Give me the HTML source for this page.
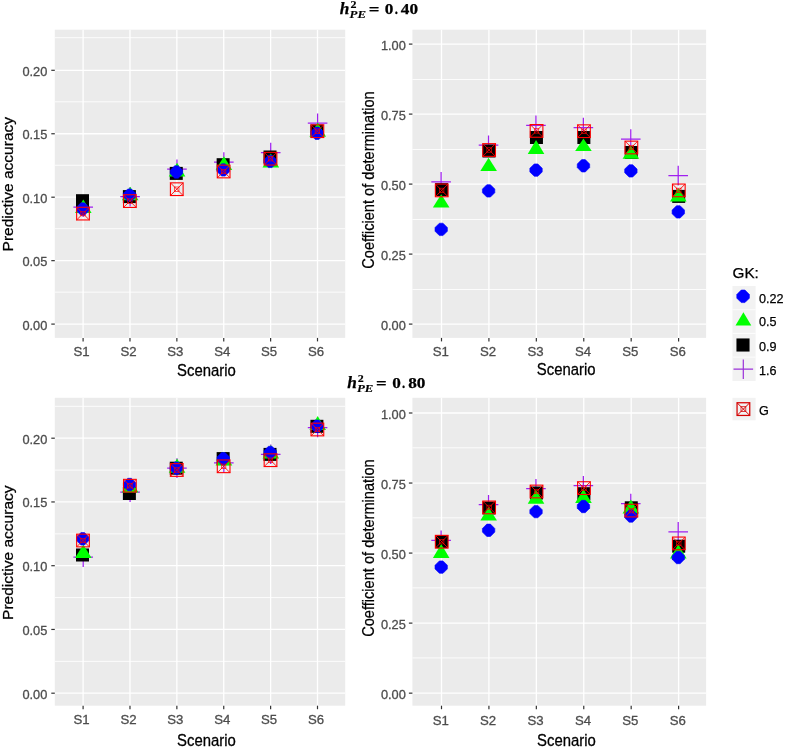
<!DOCTYPE html>
<html lang="en"><head><meta charset="utf-8"><title>Predictive accuracy and coefficient of determination by scenario</title>
<style>html,body{margin:0;padding:0;background:#fff}body{width:785px;height:747px;overflow:hidden}svg{display:block;font-family:"Liberation Sans", Arial, sans-serif}</style></head><body>
<svg width="785" height="747" viewBox="0 0 785 747">
<rect width="785" height="747" fill="#fff"/>
<g>
<rect x="-10" y="-10" width="805" height="767" fill="#fff"/>
<rect x="54.8" y="29.7" width="290.40" height="308.20" fill="#ebebeb"/>
<path d="M54.8 37.70H345.2" stroke="#fff" stroke-width="0.9" stroke-opacity="0.95"/>
<path d="M54.8 101.80H345.2" stroke="#fff" stroke-width="0.9" stroke-opacity="0.95"/>
<path d="M54.8 165.25H345.2" stroke="#fff" stroke-width="0.9" stroke-opacity="0.95"/>
<path d="M54.8 228.70H345.2" stroke="#fff" stroke-width="0.9" stroke-opacity="0.95"/>
<path d="M54.8 292.15H345.2" stroke="#fff" stroke-width="0.9" stroke-opacity="0.95"/>
<path d="M54.8 70.30H345.2" stroke="#fff" stroke-width="1.3"/>
<path d="M54.8 133.75H345.2" stroke="#fff" stroke-width="1.3"/>
<path d="M54.8 197.20H345.2" stroke="#fff" stroke-width="1.3"/>
<path d="M54.8 260.65H345.2" stroke="#fff" stroke-width="1.3"/>
<path d="M54.8 324.10H345.2" stroke="#fff" stroke-width="1.3"/>
<path d="M83.10 29.7V337.9" stroke="#fff" stroke-width="1.3"/>
<path d="M129.98 29.7V337.9" stroke="#fff" stroke-width="1.3"/>
<path d="M176.86 29.7V337.9" stroke="#fff" stroke-width="1.3"/>
<path d="M223.74 29.7V337.9" stroke="#fff" stroke-width="1.3"/>
<path d="M270.62 29.7V337.9" stroke="#fff" stroke-width="1.3"/>
<path d="M317.50 29.7V337.9" stroke="#fff" stroke-width="1.3"/>
<path d="M51.30 70.30H54.8" stroke="#333333" stroke-width="1.2"/>
<path d="M51.30 133.75H54.8" stroke="#333333" stroke-width="1.2"/>
<path d="M51.30 197.20H54.8" stroke="#333333" stroke-width="1.2"/>
<path d="M51.30 260.65H54.8" stroke="#333333" stroke-width="1.2"/>
<path d="M51.30 324.10H54.8" stroke="#333333" stroke-width="1.2"/>
<path d="M83.10 337.9V341.40" stroke="#333333" stroke-width="1.2"/>
<path d="M129.98 337.9V341.40" stroke="#333333" stroke-width="1.2"/>
<path d="M176.86 337.9V341.40" stroke="#333333" stroke-width="1.2"/>
<path d="M223.74 337.9V341.40" stroke="#333333" stroke-width="1.2"/>
<path d="M270.62 337.9V341.40" stroke="#333333" stroke-width="1.2"/>
<path d="M317.50 337.9V341.40" stroke="#333333" stroke-width="1.2"/>
<text x="47.3" y="75.80" text-anchor="end" font-size="12.8" fill="#4d4d4d" stroke="#4d4d4d" stroke-width="0.3">0.20</text>
<text x="47.3" y="139.25" text-anchor="end" font-size="12.8" fill="#4d4d4d" stroke="#4d4d4d" stroke-width="0.3">0.15</text>
<text x="47.3" y="202.70" text-anchor="end" font-size="12.8" fill="#4d4d4d" stroke="#4d4d4d" stroke-width="0.3">0.10</text>
<text x="47.3" y="266.15" text-anchor="end" font-size="12.8" fill="#4d4d4d" stroke="#4d4d4d" stroke-width="0.3">0.05</text>
<text x="47.3" y="329.60" text-anchor="end" font-size="12.8" fill="#4d4d4d" stroke="#4d4d4d" stroke-width="0.3">0.00</text>
<text x="81.60" y="356.1" text-anchor="middle" font-size="13.2" fill="#4d4d4d" stroke="#4d4d4d" stroke-width="0.3">S1</text>
<text x="128.48" y="356.1" text-anchor="middle" font-size="13.2" fill="#4d4d4d" stroke="#4d4d4d" stroke-width="0.3">S2</text>
<text x="175.36" y="356.1" text-anchor="middle" font-size="13.2" fill="#4d4d4d" stroke="#4d4d4d" stroke-width="0.3">S3</text>
<text x="222.24" y="356.1" text-anchor="middle" font-size="13.2" fill="#4d4d4d" stroke="#4d4d4d" stroke-width="0.3">S4</text>
<text x="269.12" y="356.1" text-anchor="middle" font-size="13.2" fill="#4d4d4d" stroke="#4d4d4d" stroke-width="0.3">S5</text>
<text x="316.00" y="356.1" text-anchor="middle" font-size="13.2" fill="#4d4d4d" stroke="#4d4d4d" stroke-width="0.3">S6</text>
<rect x="412.4" y="29.7" width="293.70" height="308.20" fill="#ebebeb"/>
<path d="M412.4 79.50H706.1" stroke="#fff" stroke-width="0.9" stroke-opacity="0.95"/>
<path d="M412.4 149.50H706.1" stroke="#fff" stroke-width="0.9" stroke-opacity="0.95"/>
<path d="M412.4 219.50H706.1" stroke="#fff" stroke-width="0.9" stroke-opacity="0.95"/>
<path d="M412.4 289.50H706.1" stroke="#fff" stroke-width="0.9" stroke-opacity="0.95"/>
<path d="M412.4 44.10H706.1" stroke="#fff" stroke-width="1.3"/>
<path d="M412.4 114.10H706.1" stroke="#fff" stroke-width="1.3"/>
<path d="M412.4 184.10H706.1" stroke="#fff" stroke-width="1.3"/>
<path d="M412.4 254.10H706.1" stroke="#fff" stroke-width="1.3"/>
<path d="M412.4 324.10H706.1" stroke="#fff" stroke-width="1.3"/>
<path d="M441.50 29.7V337.9" stroke="#fff" stroke-width="1.3"/>
<path d="M488.92 29.7V337.9" stroke="#fff" stroke-width="1.3"/>
<path d="M536.34 29.7V337.9" stroke="#fff" stroke-width="1.3"/>
<path d="M583.76 29.7V337.9" stroke="#fff" stroke-width="1.3"/>
<path d="M631.18 29.7V337.9" stroke="#fff" stroke-width="1.3"/>
<path d="M678.60 29.7V337.9" stroke="#fff" stroke-width="1.3"/>
<path d="M408.90 44.10H412.4" stroke="#333333" stroke-width="1.2"/>
<path d="M408.90 114.10H412.4" stroke="#333333" stroke-width="1.2"/>
<path d="M408.90 184.10H412.4" stroke="#333333" stroke-width="1.2"/>
<path d="M408.90 254.10H412.4" stroke="#333333" stroke-width="1.2"/>
<path d="M408.90 324.10H412.4" stroke="#333333" stroke-width="1.2"/>
<path d="M441.50 337.9V341.40" stroke="#333333" stroke-width="1.2"/>
<path d="M488.92 337.9V341.40" stroke="#333333" stroke-width="1.2"/>
<path d="M536.34 337.9V341.40" stroke="#333333" stroke-width="1.2"/>
<path d="M583.76 337.9V341.40" stroke="#333333" stroke-width="1.2"/>
<path d="M631.18 337.9V341.40" stroke="#333333" stroke-width="1.2"/>
<path d="M678.60 337.9V341.40" stroke="#333333" stroke-width="1.2"/>
<text x="405.8" y="49.60" text-anchor="end" font-size="12.8" fill="#4d4d4d" stroke="#4d4d4d" stroke-width="0.3">1.00</text>
<text x="405.8" y="119.60" text-anchor="end" font-size="12.8" fill="#4d4d4d" stroke="#4d4d4d" stroke-width="0.3">0.75</text>
<text x="405.8" y="189.60" text-anchor="end" font-size="12.8" fill="#4d4d4d" stroke="#4d4d4d" stroke-width="0.3">0.50</text>
<text x="405.8" y="259.60" text-anchor="end" font-size="12.8" fill="#4d4d4d" stroke="#4d4d4d" stroke-width="0.3">0.25</text>
<text x="405.8" y="329.60" text-anchor="end" font-size="12.8" fill="#4d4d4d" stroke="#4d4d4d" stroke-width="0.3">0.00</text>
<text x="440.70" y="355.8" text-anchor="middle" font-size="13.2" fill="#4d4d4d" stroke="#4d4d4d" stroke-width="0.3">S1</text>
<text x="488.12" y="355.8" text-anchor="middle" font-size="13.2" fill="#4d4d4d" stroke="#4d4d4d" stroke-width="0.3">S2</text>
<text x="535.54" y="355.8" text-anchor="middle" font-size="13.2" fill="#4d4d4d" stroke="#4d4d4d" stroke-width="0.3">S3</text>
<text x="582.96" y="355.8" text-anchor="middle" font-size="13.2" fill="#4d4d4d" stroke="#4d4d4d" stroke-width="0.3">S4</text>
<text x="630.38" y="355.8" text-anchor="middle" font-size="13.2" fill="#4d4d4d" stroke="#4d4d4d" stroke-width="0.3">S5</text>
<text x="677.80" y="355.8" text-anchor="middle" font-size="13.2" fill="#4d4d4d" stroke="#4d4d4d" stroke-width="0.3">S6</text>
<rect x="54.8" y="397.8" width="290.40" height="307.90" fill="#ebebeb"/>
<path d="M54.8 406.30H345.2" stroke="#fff" stroke-width="0.9" stroke-opacity="0.95"/>
<path d="M54.8 470.10H345.2" stroke="#fff" stroke-width="0.9" stroke-opacity="0.95"/>
<path d="M54.8 533.85H345.2" stroke="#fff" stroke-width="0.9" stroke-opacity="0.95"/>
<path d="M54.8 597.60H345.2" stroke="#fff" stroke-width="0.9" stroke-opacity="0.95"/>
<path d="M54.8 661.35H345.2" stroke="#fff" stroke-width="0.9" stroke-opacity="0.95"/>
<path d="M54.8 438.20H345.2" stroke="#fff" stroke-width="1.3"/>
<path d="M54.8 501.95H345.2" stroke="#fff" stroke-width="1.3"/>
<path d="M54.8 565.70H345.2" stroke="#fff" stroke-width="1.3"/>
<path d="M54.8 629.45H345.2" stroke="#fff" stroke-width="1.3"/>
<path d="M54.8 693.20H345.2" stroke="#fff" stroke-width="1.3"/>
<path d="M83.10 397.8V705.7" stroke="#fff" stroke-width="1.3"/>
<path d="M129.98 397.8V705.7" stroke="#fff" stroke-width="1.3"/>
<path d="M176.86 397.8V705.7" stroke="#fff" stroke-width="1.3"/>
<path d="M223.74 397.8V705.7" stroke="#fff" stroke-width="1.3"/>
<path d="M270.62 397.8V705.7" stroke="#fff" stroke-width="1.3"/>
<path d="M317.50 397.8V705.7" stroke="#fff" stroke-width="1.3"/>
<path d="M51.30 438.20H54.8" stroke="#333333" stroke-width="1.2"/>
<path d="M51.30 501.95H54.8" stroke="#333333" stroke-width="1.2"/>
<path d="M51.30 565.70H54.8" stroke="#333333" stroke-width="1.2"/>
<path d="M51.30 629.45H54.8" stroke="#333333" stroke-width="1.2"/>
<path d="M51.30 693.20H54.8" stroke="#333333" stroke-width="1.2"/>
<path d="M83.10 705.7V709.20" stroke="#333333" stroke-width="1.2"/>
<path d="M129.98 705.7V709.20" stroke="#333333" stroke-width="1.2"/>
<path d="M176.86 705.7V709.20" stroke="#333333" stroke-width="1.2"/>
<path d="M223.74 705.7V709.20" stroke="#333333" stroke-width="1.2"/>
<path d="M270.62 705.7V709.20" stroke="#333333" stroke-width="1.2"/>
<path d="M317.50 705.7V709.20" stroke="#333333" stroke-width="1.2"/>
<text x="47.3" y="443.70" text-anchor="end" font-size="12.8" fill="#4d4d4d" stroke="#4d4d4d" stroke-width="0.3">0.20</text>
<text x="47.3" y="507.45" text-anchor="end" font-size="12.8" fill="#4d4d4d" stroke="#4d4d4d" stroke-width="0.3">0.15</text>
<text x="47.3" y="571.20" text-anchor="end" font-size="12.8" fill="#4d4d4d" stroke="#4d4d4d" stroke-width="0.3">0.10</text>
<text x="47.3" y="634.95" text-anchor="end" font-size="12.8" fill="#4d4d4d" stroke="#4d4d4d" stroke-width="0.3">0.05</text>
<text x="47.3" y="698.70" text-anchor="end" font-size="12.8" fill="#4d4d4d" stroke="#4d4d4d" stroke-width="0.3">0.00</text>
<text x="81.60" y="724.4" text-anchor="middle" font-size="13.2" fill="#4d4d4d" stroke="#4d4d4d" stroke-width="0.3">S1</text>
<text x="128.48" y="724.4" text-anchor="middle" font-size="13.2" fill="#4d4d4d" stroke="#4d4d4d" stroke-width="0.3">S2</text>
<text x="175.36" y="724.4" text-anchor="middle" font-size="13.2" fill="#4d4d4d" stroke="#4d4d4d" stroke-width="0.3">S3</text>
<text x="222.24" y="724.4" text-anchor="middle" font-size="13.2" fill="#4d4d4d" stroke="#4d4d4d" stroke-width="0.3">S4</text>
<text x="269.12" y="724.4" text-anchor="middle" font-size="13.2" fill="#4d4d4d" stroke="#4d4d4d" stroke-width="0.3">S5</text>
<text x="316.00" y="724.4" text-anchor="middle" font-size="13.2" fill="#4d4d4d" stroke="#4d4d4d" stroke-width="0.3">S6</text>
<rect x="412.4" y="397.8" width="293.70" height="307.90" fill="#ebebeb"/>
<path d="M412.4 447.80H706.1" stroke="#fff" stroke-width="0.9" stroke-opacity="0.95"/>
<path d="M412.4 517.84H706.1" stroke="#fff" stroke-width="0.9" stroke-opacity="0.95"/>
<path d="M412.4 587.88H706.1" stroke="#fff" stroke-width="0.9" stroke-opacity="0.95"/>
<path d="M412.4 657.92H706.1" stroke="#fff" stroke-width="0.9" stroke-opacity="0.95"/>
<path d="M412.4 413.00H706.1" stroke="#fff" stroke-width="1.3"/>
<path d="M412.4 483.04H706.1" stroke="#fff" stroke-width="1.3"/>
<path d="M412.4 553.08H706.1" stroke="#fff" stroke-width="1.3"/>
<path d="M412.4 623.12H706.1" stroke="#fff" stroke-width="1.3"/>
<path d="M412.4 693.16H706.1" stroke="#fff" stroke-width="1.3"/>
<path d="M441.50 397.8V705.7" stroke="#fff" stroke-width="1.3"/>
<path d="M488.92 397.8V705.7" stroke="#fff" stroke-width="1.3"/>
<path d="M536.34 397.8V705.7" stroke="#fff" stroke-width="1.3"/>
<path d="M583.76 397.8V705.7" stroke="#fff" stroke-width="1.3"/>
<path d="M631.18 397.8V705.7" stroke="#fff" stroke-width="1.3"/>
<path d="M678.60 397.8V705.7" stroke="#fff" stroke-width="1.3"/>
<path d="M408.90 413.00H412.4" stroke="#333333" stroke-width="1.2"/>
<path d="M408.90 483.04H412.4" stroke="#333333" stroke-width="1.2"/>
<path d="M408.90 553.08H412.4" stroke="#333333" stroke-width="1.2"/>
<path d="M408.90 623.12H412.4" stroke="#333333" stroke-width="1.2"/>
<path d="M408.90 693.16H412.4" stroke="#333333" stroke-width="1.2"/>
<path d="M441.50 705.7V709.20" stroke="#333333" stroke-width="1.2"/>
<path d="M488.92 705.7V709.20" stroke="#333333" stroke-width="1.2"/>
<path d="M536.34 705.7V709.20" stroke="#333333" stroke-width="1.2"/>
<path d="M583.76 705.7V709.20" stroke="#333333" stroke-width="1.2"/>
<path d="M631.18 705.7V709.20" stroke="#333333" stroke-width="1.2"/>
<path d="M678.60 705.7V709.20" stroke="#333333" stroke-width="1.2"/>
<text x="405.8" y="418.50" text-anchor="end" font-size="12.8" fill="#4d4d4d" stroke="#4d4d4d" stroke-width="0.3">1.00</text>
<text x="405.8" y="488.54" text-anchor="end" font-size="12.8" fill="#4d4d4d" stroke="#4d4d4d" stroke-width="0.3">0.75</text>
<text x="405.8" y="558.58" text-anchor="end" font-size="12.8" fill="#4d4d4d" stroke="#4d4d4d" stroke-width="0.3">0.50</text>
<text x="405.8" y="628.62" text-anchor="end" font-size="12.8" fill="#4d4d4d" stroke="#4d4d4d" stroke-width="0.3">0.25</text>
<text x="405.8" y="698.66" text-anchor="end" font-size="12.8" fill="#4d4d4d" stroke="#4d4d4d" stroke-width="0.3">0.00</text>
<text x="440.70" y="724.6" text-anchor="middle" font-size="13.2" fill="#4d4d4d" stroke="#4d4d4d" stroke-width="0.3">S1</text>
<text x="488.12" y="724.6" text-anchor="middle" font-size="13.2" fill="#4d4d4d" stroke="#4d4d4d" stroke-width="0.3">S2</text>
<text x="535.54" y="724.6" text-anchor="middle" font-size="13.2" fill="#4d4d4d" stroke="#4d4d4d" stroke-width="0.3">S3</text>
<text x="582.96" y="724.6" text-anchor="middle" font-size="13.2" fill="#4d4d4d" stroke="#4d4d4d" stroke-width="0.3">S4</text>
<text x="630.38" y="724.6" text-anchor="middle" font-size="13.2" fill="#4d4d4d" stroke="#4d4d4d" stroke-width="0.3">S5</text>
<text x="677.80" y="724.6" text-anchor="middle" font-size="13.2" fill="#4d4d4d" stroke="#4d4d4d" stroke-width="0.3">S6</text>
<path d="M73.40 207.10H93.00M83.20 197.30V216.90" stroke="#a020f0" stroke-width="1.25" fill="none"/>
<path d="M120.28 196.70H139.88M130.08 186.90V206.50" stroke="#a020f0" stroke-width="1.25" fill="none"/>
<path d="M167.16 169.20H186.76M176.96 159.40V179.00" stroke="#a020f0" stroke-width="1.25" fill="none"/>
<path d="M214.04 162.10H233.64M223.84 152.30V171.90" stroke="#a020f0" stroke-width="1.25" fill="none"/>
<path d="M260.92 152.60H280.52M270.72 142.80V162.40" stroke="#a020f0" stroke-width="1.25" fill="none"/>
<path d="M307.80 123.20H327.40M317.60 113.40V133.00" stroke="#a020f0" stroke-width="1.25" fill="none"/>
<rect x="76.00" y="194.20" width="13.00" height="13.00" fill="#000000"/>
<rect x="122.88" y="190.10" width="13.00" height="13.00" fill="#000000"/>
<rect x="169.76" y="166.90" width="13.00" height="13.00" fill="#000000"/>
<rect x="216.64" y="158.20" width="13.00" height="13.00" fill="#000000"/>
<rect x="263.52" y="150.50" width="13.00" height="13.00" fill="#000000"/>
<rect x="310.40" y="124.50" width="13.00" height="13.00" fill="#000000"/>
<polygon points="83.30,199.40 75.00,212.90 91.60,212.90" fill="#00ff00"/>
<polygon points="130.18,186.80 121.88,200.30 138.48,200.30" fill="#00ff00"/>
<polygon points="177.06,162.70 168.76,176.40 185.36,176.40" fill="#00ff00"/>
<polygon points="223.94,156.30 215.64,170.00 232.24,170.00" fill="#00ff00"/>
<polygon points="270.82,153.60 262.52,167.60 279.12,167.60" fill="#00ff00"/>
<polygon points="317.70,122.40 309.40,136.70 326.00,136.70" fill="#00ff00"/>
<polygon points="80.90,202.80 84.50,202.80 88.90,207.20 88.90,210.80 84.50,215.20 80.90,215.20 76.50,210.80 76.50,207.20" fill="#0000ff" stroke="#0000ff" stroke-width="0.6" stroke-linejoin="round"/>
<polygon points="127.78,188.90 131.38,188.90 135.78,193.30 135.78,196.90 131.38,201.30 127.78,201.30 123.38,196.90 123.38,193.30" fill="#0000ff" stroke="#0000ff" stroke-width="0.6" stroke-linejoin="round"/>
<polygon points="174.66,165.80 178.26,165.80 182.66,170.20 182.66,173.80 178.26,178.20 174.66,178.20 170.26,173.80 170.26,170.20" fill="#0000ff" stroke="#0000ff" stroke-width="0.6" stroke-linejoin="round"/>
<polygon points="221.54,163.70 225.14,163.70 229.54,168.10 229.54,171.70 225.14,176.10 221.54,176.10 217.14,171.70 217.14,168.10" fill="#0000ff" stroke="#0000ff" stroke-width="0.6" stroke-linejoin="round"/>
<polygon points="268.42,155.20 272.02,155.20 276.42,159.60 276.42,163.20 272.02,167.60 268.42,167.60 264.02,163.20 264.02,159.60" fill="#0000ff" stroke="#0000ff" stroke-width="0.6" stroke-linejoin="round"/>
<polygon points="315.30,127.10 318.90,127.10 323.30,131.50 323.30,135.10 318.90,139.50 315.30,139.50 310.90,135.10 310.90,131.50" fill="#0000ff" stroke="#0000ff" stroke-width="0.6" stroke-linejoin="round"/>
<g stroke="#ff0000" stroke-width="1.1" fill="none"><rect x="76.65" y="207.25" width="12.70" height="12.70"/><path d="M76.65 207.25L89.35 219.95M76.65 219.95L89.35 207.25" stroke-width="0.88"/><rect x="80.80" y="211.40" width="4.40" height="4.40" stroke-width="0.66"/></g>
<g stroke="#ff0000" stroke-width="1.1" fill="none"><rect x="123.53" y="194.75" width="12.70" height="12.70"/><path d="M123.53 194.75L136.23 207.45M123.53 207.45L136.23 194.75" stroke-width="0.88"/><rect x="127.68" y="198.90" width="4.40" height="4.40" stroke-width="0.66"/></g>
<g stroke="#ff0000" stroke-width="1.1" fill="none"><rect x="170.41" y="182.85" width="12.70" height="12.70"/><path d="M170.41 182.85L183.11 195.55M170.41 195.55L183.11 182.85" stroke-width="0.88"/><rect x="174.56" y="187.00" width="4.40" height="4.40" stroke-width="0.66"/></g>
<g stroke="#ff0000" stroke-width="1.1" fill="none"><rect x="217.29" y="165.15" width="12.70" height="12.70"/><path d="M217.29 165.15L229.99 177.85M217.29 177.85L229.99 165.15" stroke-width="0.88"/><rect x="221.44" y="169.30" width="4.40" height="4.40" stroke-width="0.66"/></g>
<g stroke="#ff0000" stroke-width="1.1" fill="none"><rect x="264.17" y="152.35" width="12.70" height="12.70"/><path d="M264.17 152.35L276.87 165.05M264.17 165.05L276.87 152.35" stroke-width="0.88"/><rect x="268.32" y="156.50" width="4.40" height="4.40" stroke-width="0.66"/></g>
<g stroke="#ff0000" stroke-width="1.1" fill="none"><rect x="311.05" y="124.85" width="12.70" height="12.70"/><path d="M311.05 124.85L323.75 137.55M311.05 137.55L323.75 124.85" stroke-width="0.88"/><rect x="315.20" y="129.00" width="4.40" height="4.40" stroke-width="0.66"/></g>
<path d="M431.30 181.80H450.90M441.10 172.00V191.60" stroke="#a020f0" stroke-width="1.25" fill="none"/>
<path d="M478.72 145.20H498.32M488.52 135.40V155.00" stroke="#a020f0" stroke-width="1.25" fill="none"/>
<path d="M526.14 125.40H545.74M535.94 115.60V135.20" stroke="#a020f0" stroke-width="1.25" fill="none"/>
<path d="M573.56 127.50H593.16M583.36 117.70V137.30" stroke="#a020f0" stroke-width="1.25" fill="none"/>
<path d="M620.98 139.10H640.58M630.78 129.30V148.90" stroke="#a020f0" stroke-width="1.25" fill="none"/>
<path d="M668.40 175.60H688.00M678.20 165.80V185.40" stroke="#a020f0" stroke-width="1.25" fill="none"/>
<rect x="435.10" y="183.10" width="13.00" height="13.00" fill="#000000"/>
<rect x="482.52" y="144.50" width="13.00" height="13.00" fill="#000000"/>
<rect x="529.94" y="131.00" width="13.00" height="13.00" fill="#000000"/>
<rect x="577.36" y="131.00" width="13.00" height="13.00" fill="#000000"/>
<rect x="624.78" y="146.00" width="13.00" height="13.00" fill="#000000"/>
<rect x="672.20" y="189.90" width="13.00" height="13.00" fill="#000000"/>
<polygon points="441.20,194.30 432.90,207.50 449.50,207.50" fill="#00ff00"/>
<polygon points="488.62,157.80 480.32,170.90 496.92,170.90" fill="#00ff00"/>
<polygon points="536.04,140.00 527.74,154.00 544.34,154.00" fill="#00ff00"/>
<polygon points="583.46,138.60 575.16,151.00 591.76,151.00" fill="#00ff00"/>
<polygon points="630.88,145.40 622.58,158.70 639.18,158.70" fill="#00ff00"/>
<polygon points="678.30,187.90 670.00,201.40 686.60,201.40" fill="#00ff00"/>
<polygon points="439.40,223.20 443.00,223.20 447.40,227.60 447.40,231.20 443.00,235.60 439.40,235.60 435.00,231.20 435.00,227.60" fill="#0000ff" stroke="#0000ff" stroke-width="0.6" stroke-linejoin="round"/>
<polygon points="486.82,184.70 490.42,184.70 494.82,189.10 494.82,192.70 490.42,197.10 486.82,197.10 482.42,192.70 482.42,189.10" fill="#0000ff" stroke="#0000ff" stroke-width="0.6" stroke-linejoin="round"/>
<polygon points="534.24,163.90 537.84,163.90 542.24,168.30 542.24,171.90 537.84,176.30 534.24,176.30 529.84,171.90 529.84,168.30" fill="#0000ff" stroke="#0000ff" stroke-width="0.6" stroke-linejoin="round"/>
<polygon points="581.66,159.60 585.26,159.60 589.66,164.00 589.66,167.60 585.26,172.00 581.66,172.00 577.26,167.60 577.26,164.00" fill="#0000ff" stroke="#0000ff" stroke-width="0.6" stroke-linejoin="round"/>
<polygon points="629.08,164.70 632.68,164.70 637.08,169.10 637.08,172.70 632.68,177.10 629.08,177.10 624.68,172.70 624.68,169.10" fill="#0000ff" stroke="#0000ff" stroke-width="0.6" stroke-linejoin="round"/>
<polygon points="676.50,205.70 680.10,205.70 684.50,210.10 684.50,213.70 680.10,218.10 676.50,218.10 672.10,213.70 672.10,210.10" fill="#0000ff" stroke="#0000ff" stroke-width="0.6" stroke-linejoin="round"/>
<g stroke="#ff0000" stroke-width="1.1" fill="none"><rect x="435.35" y="184.05" width="12.70" height="12.70"/><path d="M435.35 184.05L448.05 196.75M435.35 196.75L448.05 184.05" stroke-width="0.88"/><rect x="439.50" y="188.20" width="4.40" height="4.40" stroke-width="0.66"/></g>
<g stroke="#ff0000" stroke-width="1.1" fill="none"><rect x="482.77" y="143.65" width="12.70" height="12.70"/><path d="M482.77 143.65L495.47 156.35M482.77 156.35L495.47 143.65" stroke-width="0.88"/><rect x="486.92" y="147.80" width="4.40" height="4.40" stroke-width="0.66"/></g>
<g stroke="#ff0000" stroke-width="1.1" fill="none"><rect x="530.19" y="124.55" width="12.70" height="12.70"/><path d="M530.19 124.55L542.89 137.25M530.19 137.25L542.89 124.55" stroke-width="0.88"/><rect x="534.34" y="128.70" width="4.40" height="4.40" stroke-width="0.66"/></g>
<g stroke="#ff0000" stroke-width="1.1" fill="none"><rect x="577.61" y="124.85" width="12.70" height="12.70"/><path d="M577.61 124.85L590.31 137.55M577.61 137.55L590.31 124.85" stroke-width="0.88"/><rect x="581.76" y="129.00" width="4.40" height="4.40" stroke-width="0.66"/></g>
<g stroke="#ff0000" stroke-width="1.1" fill="none"><rect x="625.03" y="141.15" width="12.70" height="12.70"/><path d="M625.03 141.15L637.73 153.85M625.03 153.85L637.73 141.15" stroke-width="0.88"/><rect x="629.18" y="145.30" width="4.40" height="4.40" stroke-width="0.66"/></g>
<g stroke="#ff0000" stroke-width="1.1" fill="none"><rect x="672.45" y="184.05" width="12.70" height="12.70"/><path d="M672.45 184.05L685.15 196.75M672.45 196.75L685.15 184.05" stroke-width="0.88"/><rect x="676.60" y="188.20" width="4.40" height="4.40" stroke-width="0.66"/></g>
<path d="M73.40 557.10H93.00M83.20 547.30V566.90" stroke="#a020f0" stroke-width="1.25" fill="none"/>
<path d="M120.28 492.10H139.88M130.08 482.30V501.90" stroke="#a020f0" stroke-width="1.25" fill="none"/>
<path d="M167.16 468.10H186.76M176.96 458.30V477.90" stroke="#a020f0" stroke-width="1.25" fill="none"/>
<path d="M214.04 462.80H233.64M223.84 453.00V472.60" stroke="#a020f0" stroke-width="1.25" fill="none"/>
<path d="M260.92 454.30H280.52M270.72 444.50V464.10" stroke="#a020f0" stroke-width="1.25" fill="none"/>
<path d="M307.80 427.50H327.40M317.60 417.70V437.30" stroke="#a020f0" stroke-width="1.25" fill="none"/>
<rect x="76.00" y="548.50" width="13.00" height="13.00" fill="#000000"/>
<rect x="122.88" y="487.00" width="13.00" height="13.00" fill="#000000"/>
<rect x="169.76" y="461.70" width="13.00" height="13.00" fill="#000000"/>
<rect x="216.64" y="452.10" width="13.00" height="13.00" fill="#000000"/>
<rect x="263.52" y="447.90" width="13.00" height="13.00" fill="#000000"/>
<rect x="310.40" y="419.80" width="13.00" height="13.00" fill="#000000"/>
<polygon points="83.30,544.50 75.00,558.00 91.60,558.00" fill="#00ff00"/>
<polygon points="130.18,478.50 121.88,492.50 138.48,492.50" fill="#00ff00"/>
<polygon points="177.06,458.60 168.76,472.80 185.36,472.80" fill="#00ff00"/>
<polygon points="223.94,451.70 215.64,465.40 232.24,465.40" fill="#00ff00"/>
<polygon points="270.82,445.00 262.52,458.60 279.12,458.60" fill="#00ff00"/>
<polygon points="317.70,415.90 309.40,430.00 326.00,430.00" fill="#00ff00"/>
<polygon points="80.90,532.60 84.50,532.60 88.90,537.00 88.90,540.60 84.50,545.00 80.90,545.00 76.50,540.60 76.50,537.00" fill="#0000ff" stroke="#0000ff" stroke-width="0.6" stroke-linejoin="round"/>
<polygon points="127.78,478.30 131.38,478.30 135.78,482.70 135.78,486.30 131.38,490.70 127.78,490.70 123.38,486.30 123.38,482.70" fill="#0000ff" stroke="#0000ff" stroke-width="0.6" stroke-linejoin="round"/>
<polygon points="174.66,461.90 178.26,461.90 182.66,466.30 182.66,469.90 178.26,474.30 174.66,474.30 170.26,469.90 170.26,466.30" fill="#0000ff" stroke="#0000ff" stroke-width="0.6" stroke-linejoin="round"/>
<polygon points="221.54,452.60 225.14,452.60 229.54,457.00 229.54,460.60 225.14,465.00 221.54,465.00 217.14,460.60 217.14,457.00" fill="#0000ff" stroke="#0000ff" stroke-width="0.6" stroke-linejoin="round"/>
<polygon points="268.42,446.30 272.02,446.30 276.42,450.70 276.42,454.30 272.02,458.70 268.42,458.70 264.02,454.30 264.02,450.70" fill="#0000ff" stroke="#0000ff" stroke-width="0.6" stroke-linejoin="round"/>
<polygon points="315.30,420.00 318.90,420.00 323.30,424.40 323.30,428.00 318.90,432.40 315.30,432.40 310.90,428.00 310.90,424.40" fill="#0000ff" stroke="#0000ff" stroke-width="0.6" stroke-linejoin="round"/>
<g stroke="#ff0000" stroke-width="1.1" fill="none"><rect x="76.65" y="534.15" width="12.70" height="12.70"/><path d="M76.65 534.15L89.35 546.85M76.65 546.85L89.35 534.15" stroke-width="0.88"/><rect x="80.80" y="538.30" width="4.40" height="4.40" stroke-width="0.66"/></g>
<g stroke="#ff0000" stroke-width="1.1" fill="none"><rect x="123.53" y="479.35" width="12.70" height="12.70"/><path d="M123.53 479.35L136.23 492.05M123.53 492.05L136.23 479.35" stroke-width="0.88"/><rect x="127.68" y="483.50" width="4.40" height="4.40" stroke-width="0.66"/></g>
<g stroke="#ff0000" stroke-width="1.1" fill="none"><rect x="170.41" y="463.65" width="12.70" height="12.70"/><path d="M170.41 463.65L183.11 476.35M170.41 476.35L183.11 463.65" stroke-width="0.88"/><rect x="174.56" y="467.80" width="4.40" height="4.40" stroke-width="0.66"/></g>
<g stroke="#ff0000" stroke-width="1.1" fill="none"><rect x="217.29" y="459.95" width="12.70" height="12.70"/><path d="M217.29 459.95L229.99 472.65M217.29 472.65L229.99 459.95" stroke-width="0.88"/><rect x="221.44" y="464.10" width="4.40" height="4.40" stroke-width="0.66"/></g>
<g stroke="#ff0000" stroke-width="1.1" fill="none"><rect x="264.17" y="453.85" width="12.70" height="12.70"/><path d="M264.17 453.85L276.87 466.55M264.17 466.55L276.87 453.85" stroke-width="0.88"/><rect x="268.32" y="458.00" width="4.40" height="4.40" stroke-width="0.66"/></g>
<g stroke="#ff0000" stroke-width="1.1" fill="none"><rect x="311.05" y="423.15" width="12.70" height="12.70"/><path d="M311.05 423.15L323.75 435.85M311.05 435.85L323.75 423.15" stroke-width="0.88"/><rect x="315.20" y="427.30" width="4.40" height="4.40" stroke-width="0.66"/></g>
<path d="M431.30 540.30H450.90M441.10 530.50V550.10" stroke="#a020f0" stroke-width="1.25" fill="none"/>
<path d="M478.72 504.70H498.32M488.52 494.90V514.50" stroke="#a020f0" stroke-width="1.25" fill="none"/>
<path d="M526.14 488.70H545.74M535.94 478.90V498.50" stroke="#a020f0" stroke-width="1.25" fill="none"/>
<path d="M573.56 485.70H593.16M583.36 475.90V495.50" stroke="#a020f0" stroke-width="1.25" fill="none"/>
<path d="M620.98 503.50H640.58M630.78 493.70V513.30" stroke="#a020f0" stroke-width="1.25" fill="none"/>
<path d="M668.40 531.80H688.00M678.20 522.00V541.60" stroke="#a020f0" stroke-width="1.25" fill="none"/>
<rect x="435.10" y="535.20" width="13.00" height="13.00" fill="#000000"/>
<rect x="482.52" y="501.50" width="13.00" height="13.00" fill="#000000"/>
<rect x="529.94" y="486.50" width="13.00" height="13.00" fill="#000000"/>
<rect x="577.36" y="487.20" width="13.00" height="13.00" fill="#000000"/>
<rect x="624.78" y="501.30" width="13.00" height="13.00" fill="#000000"/>
<rect x="672.20" y="539.70" width="13.00" height="13.00" fill="#000000"/>
<polygon points="441.20,544.00 432.90,558.10 449.50,558.10" fill="#00ff00"/>
<polygon points="488.62,507.00 480.32,520.60 496.92,520.60" fill="#00ff00"/>
<polygon points="536.04,489.70 527.74,503.70 544.34,503.70" fill="#00ff00"/>
<polygon points="583.46,489.00 575.16,503.10 591.76,503.10" fill="#00ff00"/>
<polygon points="630.88,499.40 622.58,513.40 639.18,513.40" fill="#00ff00"/>
<polygon points="678.30,544.30 670.00,558.40 686.60,558.40" fill="#00ff00"/>
<polygon points="439.40,560.90 443.00,560.90 447.40,565.30 447.40,568.90 443.00,573.30 439.40,573.30 435.00,568.90 435.00,565.30" fill="#0000ff" stroke="#0000ff" stroke-width="0.6" stroke-linejoin="round"/>
<polygon points="486.82,524.10 490.42,524.10 494.82,528.50 494.82,532.10 490.42,536.50 486.82,536.50 482.42,532.10 482.42,528.50" fill="#0000ff" stroke="#0000ff" stroke-width="0.6" stroke-linejoin="round"/>
<polygon points="534.24,505.40 537.84,505.40 542.24,509.80 542.24,513.40 537.84,517.80 534.24,517.80 529.84,513.40 529.84,509.80" fill="#0000ff" stroke="#0000ff" stroke-width="0.6" stroke-linejoin="round"/>
<polygon points="581.66,500.30 585.26,500.30 589.66,504.70 589.66,508.30 585.26,512.70 581.66,512.70 577.26,508.30 577.26,504.70" fill="#0000ff" stroke="#0000ff" stroke-width="0.6" stroke-linejoin="round"/>
<polygon points="629.08,509.80 632.68,509.80 637.08,514.20 637.08,517.80 632.68,522.20 629.08,522.20 624.68,517.80 624.68,514.20" fill="#0000ff" stroke="#0000ff" stroke-width="0.6" stroke-linejoin="round"/>
<polygon points="676.50,551.30 680.10,551.30 684.50,555.70 684.50,559.30 680.10,563.70 676.50,563.70 672.10,559.30 672.10,555.70" fill="#0000ff" stroke="#0000ff" stroke-width="0.6" stroke-linejoin="round"/>
<g stroke="#ff0000" stroke-width="1.1" fill="none"><rect x="435.35" y="535.35" width="12.70" height="12.70"/><path d="M435.35 535.35L448.05 548.05M435.35 548.05L448.05 535.35" stroke-width="0.88"/><rect x="439.50" y="539.50" width="4.40" height="4.40" stroke-width="0.66"/></g>
<g stroke="#ff0000" stroke-width="1.1" fill="none"><rect x="482.77" y="501.05" width="12.70" height="12.70"/><path d="M482.77 501.05L495.47 513.75M482.77 513.75L495.47 501.05" stroke-width="0.88"/><rect x="486.92" y="505.20" width="4.40" height="4.40" stroke-width="0.66"/></g>
<g stroke="#ff0000" stroke-width="1.1" fill="none"><rect x="530.19" y="485.15" width="12.70" height="12.70"/><path d="M530.19 485.15L542.89 497.85M530.19 497.85L542.89 485.15" stroke-width="0.88"/><rect x="534.34" y="489.30" width="4.40" height="4.40" stroke-width="0.66"/></g>
<g stroke="#ff0000" stroke-width="1.1" fill="none"><rect x="577.61" y="481.75" width="12.70" height="12.70"/><path d="M577.61 481.75L590.31 494.45M577.61 494.45L590.31 481.75" stroke-width="0.88"/><rect x="581.76" y="485.90" width="4.40" height="4.40" stroke-width="0.66"/></g>
<g stroke="#ff0000" stroke-width="1.1" fill="none"><rect x="625.03" y="504.25" width="12.70" height="12.70"/><path d="M625.03 504.25L637.73 516.95M625.03 516.95L637.73 504.25" stroke-width="0.88"/><rect x="629.18" y="508.40" width="4.40" height="4.40" stroke-width="0.66"/></g>
<g stroke="#ff0000" stroke-width="1.1" fill="none"><rect x="672.45" y="537.05" width="12.70" height="12.70"/><path d="M672.45 537.05L685.15 549.75M672.45 549.75L685.15 537.05" stroke-width="0.88"/><rect x="676.60" y="541.20" width="4.40" height="4.40" stroke-width="0.66"/></g>
<text transform="translate(206.5 376.2) scale(0.866 1)" text-anchor="middle" font-size="17.2" fill="#000" stroke="#000" stroke-width="0.3">Scenario</text>
<text transform="translate(566.2 375.2) scale(0.866 1)" text-anchor="middle" font-size="17.2" fill="#000" stroke="#000" stroke-width="0.3">Scenario</text>
<text transform="translate(206.5 746.1) scale(0.866 1)" text-anchor="middle" font-size="17.2" fill="#000" stroke="#000" stroke-width="0.3">Scenario</text>
<text transform="translate(566.5 745.9) scale(0.866 1)" text-anchor="middle" font-size="17.2" fill="#000" stroke="#000" stroke-width="0.3">Scenario</text>
<text transform="translate(13.0 184.2) rotate(-90) scale(1 1)" text-anchor="middle" font-size="15.5" fill="#000" stroke="#000" stroke-width="0.25">Predictive accuracy</text>
<text transform="translate(13.4 552.7) rotate(-90) scale(1 1)" text-anchor="middle" font-size="15.5" fill="#000" stroke="#000" stroke-width="0.25">Predictive accuracy</text>
<text transform="translate(374.0 180.0) rotate(-90) scale(0.885 1)" text-anchor="middle" font-size="16.5" fill="#000" stroke="#000" stroke-width="0.25">Coefficient of determination</text>
<text transform="translate(374.0 548.1) rotate(-90) scale(0.885 1)" text-anchor="middle" font-size="16.5" fill="#000" stroke="#000" stroke-width="0.25">Coefficient of determination</text>
<g font-family='"Liberation Serif", "Times New Roman", serif' font-weight="bold" fill="#000"><text x="339.80" y="14.10" font-size="16.6" font-style="italic" textLength="9.6" lengthAdjust="spacingAndGlyphs" stroke="#000" stroke-width="0.25">h</text><text x="350.40" y="7.70" font-size="9.8" textLength="6.0" lengthAdjust="spacingAndGlyphs" stroke="#000" stroke-width="0.15">2</text><text x="349.60" y="18.40" font-size="11.4" font-style="italic" textLength="16.4" lengthAdjust="spacingAndGlyphs" stroke="#000" stroke-width="0.15">PE</text><text x="368.70" y="15.30" font-size="16.5" textLength="10.7" lengthAdjust="spacingAndGlyphs" stroke="#000" stroke-width="0.25">=</text><text x="384.80" y="14.10" font-size="14.6" textLength="8.6" lengthAdjust="spacingAndGlyphs" stroke="#000" stroke-width="0.25">0</text><text x="394.70" y="14.10" font-size="14.6" textLength="3.2" lengthAdjust="spacingAndGlyphs" stroke="#000" stroke-width="0.25">.</text><text x="400.80" y="14.10" font-size="14.6" textLength="17.2" lengthAdjust="spacingAndGlyphs" stroke="#000" stroke-width="0.25">40</text></g>
<g font-family='"Liberation Serif", "Times New Roman", serif' font-weight="bold" fill="#000"><text x="347.20" y="387.90" font-size="16.6" font-style="italic" textLength="9.6" lengthAdjust="spacingAndGlyphs" stroke="#000" stroke-width="0.25">h</text><text x="357.80" y="381.50" font-size="9.8" textLength="6.0" lengthAdjust="spacingAndGlyphs" stroke="#000" stroke-width="0.15">2</text><text x="357.00" y="392.20" font-size="11.4" font-style="italic" textLength="16.4" lengthAdjust="spacingAndGlyphs" stroke="#000" stroke-width="0.15">PE</text><text x="376.10" y="389.10" font-size="16.5" textLength="10.7" lengthAdjust="spacingAndGlyphs" stroke="#000" stroke-width="0.25">=</text><text x="392.20" y="387.90" font-size="14.6" textLength="8.6" lengthAdjust="spacingAndGlyphs" stroke="#000" stroke-width="0.25">0</text><text x="402.10" y="387.90" font-size="14.6" textLength="3.2" lengthAdjust="spacingAndGlyphs" stroke="#000" stroke-width="0.25">.</text><text x="408.20" y="387.90" font-size="14.6" textLength="17.2" lengthAdjust="spacingAndGlyphs" stroke="#000" stroke-width="0.25">80</text></g>
<text x="732.5" y="277.7" font-size="15.3" fill="#000" stroke="#000" stroke-width="0.25">GK:</text>
<rect x="732.5" y="286.0" width="23.1" height="23.9" fill="#f2f2f2"/>
<rect x="732.5" y="309.7" width="23.1" height="23.9" fill="#f2f2f2"/>
<rect x="732.5" y="333.4" width="23.1" height="23.9" fill="#f2f2f2"/>
<rect x="732.5" y="357.1" width="23.1" height="23.9" fill="#f2f2f2"/>
<rect x="732.5" y="397.8" width="23.1" height="22.5" fill="#f2f2f2"/>
<path d="M732.5 309.7H755.6" stroke="#fff" stroke-width="0.8"/>
<path d="M732.5 333.4H755.6" stroke="#fff" stroke-width="0.8"/>
<path d="M732.5 357.1H755.6" stroke="#fff" stroke-width="0.8"/>
<polygon points="741.27,290.00 744.93,290.00 749.40,294.47 749.40,298.13 744.93,302.60 741.27,302.60 736.80,298.13 736.80,294.47" fill="#0000ff" stroke="#0000ff" stroke-width="0.6" stroke-linejoin="round"/>
<polygon points="743.40,312.20 735.50,325.50 751.30,325.50" fill="#00ff00"/>
<rect x="736.45" y="338.45" width="13.10" height="13.10" fill="#000000"/>
<path d="M733.50 369.20H753.10M743.30 359.40V379.00" stroke="#9b30d9" stroke-width="1.2" fill="none"/>
<g stroke="#d40000" stroke-width="1.25" fill="none"><rect x="737.05" y="402.75" width="12.70" height="12.70"/><path d="M737.05 402.75L749.75 415.45M737.05 415.45L749.75 402.75" stroke-width="1.00"/><rect x="741.00" y="406.70" width="4.80" height="4.80" stroke-width="0.75"/></g>
<text x="758.9" y="302.7" font-size="12.6" fill="#000" stroke="#000" stroke-width="0.25">0.22</text>
<text x="758.9" y="326.4" font-size="12.6" fill="#000" stroke="#000" stroke-width="0.25">0.5</text>
<text x="758.9" y="350.9" font-size="12.6" fill="#000" stroke="#000" stroke-width="0.25">0.9</text>
<text x="758.9" y="374.7" font-size="12.6" fill="#000" stroke="#000" stroke-width="0.25">1.6</text>
<text x="758.9" y="415.2" font-size="12.6" fill="#000" stroke="#000" stroke-width="0.25">G</text>
</g>
</svg></body></html>
